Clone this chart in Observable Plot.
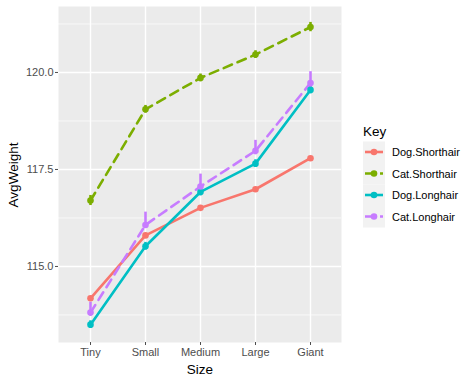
<!DOCTYPE html>
<html>
<head>
<meta charset="utf-8">
<script src="https://cdn.jsdelivr.net/npm/d3@7"></script>
<script src="https://cdn.jsdelivr.net/npm/@observablehq/plot@0.6"></script>
<style>
  body { margin: 0; background: #fff; }
  svg { font-family: "Liberation Sans", Arial, sans-serif; }
</style>
</head>
<body>
<div id="chart"></div>
<script>
const sizes = ["Tiny", "Small", "Medium", "Large", "Giant"];
const keys = ["Dog.Shorthair", "Cat.Shorthair", "Dog.Longhair", "Cat.Longhair"];
const colors = ["#F8766D", "#7CAE00", "#00BFC4", "#C77CFF"];
const dashed = [false, true, false, true];

const dogShortMean = [114.18, 115.80, 116.51, 116.99, 117.79];
const dogShortLo   = [114.14, 115.76, 116.47, 116.95, 117.75];
const dogShortHi   = [114.22, 115.84, 116.55, 117.03, 117.83];

const catShortMean = [116.70, 119.05, 119.86, 120.46, 121.17];
const catShortLo   = [116.57, 118.95, 119.76, 120.36, 121.05];
const catShortHi   = [116.83, 119.15, 119.96, 120.56, 121.29];

const dogLongMean  = [113.50, 115.52, 116.92, 117.65, 119.55];
const dogLongLo    = [113.40, 115.42, 116.82, 117.55, 119.45];
const dogLongHi    = [113.60, 115.62, 117.02, 117.75, 119.65];

const catLongMean  = [113.81, 116.07, 117.06, 117.98, 119.73];
const catLongLo    = [113.72, 115.98, 116.95, 117.88, 119.55];
const catLongHi    = [114.08, 116.40, 117.38, 118.25, 120.02];

const yTicks = [115, 117.5, 120];
const yMinor = [113.75, 116.25, 118.75, 121.25];

const series = [
  [dogShortMean, dogShortLo, dogShortHi],
  [catShortMean, catShortLo, catShortHi],
  [dogLongMean, dogLongLo, dogLongHi],
  [catLongMean, catLongLo, catLongHi]
];
const data = [];
series.forEach(([m, lo, hi], k) => {
  sizes.forEach((s, i) => data.push({Size: s, Key: keys[k], AvgWeight: m[i], lo: lo[i], hi: hi[i]}));
});

const plot = Plot.plot({
  width: 474,
  height: 384,
  marginLeft: 58,
  marginRight: 133,
  marginTop: 6,
  marginBottom: 42,
  style: {fontFamily: "Liberation Sans, Arial, sans-serif", background: "#fff"},
  x: {type: "point", domain: sizes, padding: 0.56, label: null},
  y: {domain: [113.04, 121.70], label: null},
  color: {domain: keys, range: colors},
  marks: [
    Plot.frame({fill: "#EBEBEB", stroke: null}),
    Plot.gridY(yMinor, {stroke: "#fff", strokeOpacity: 1, strokeWidth: 0.7}),
    Plot.gridY(yTicks, {stroke: "#fff", strokeOpacity: 1, strokeWidth: 1.4}),
    Plot.gridX(sizes, {stroke: "#fff", strokeOpacity: 1, strokeWidth: 1.4}),
    Plot.axisY(yTicks, {tickFormat: d => d.toFixed(1), tickSize: 3, tickPadding: 2, color: "#4D4D4D", fontSize: 11, label: null}),
    Plot.axisX(sizes, {tickSize: 3, tickPadding: 3, color: "#4D4D4D", fontSize: 11, label: null}),
    ...keys.map((k, i) => Plot.line(data.filter(d => d.Key === k), {
      x: "Size", y: "AvgWeight", stroke: "Key", strokeWidth: 2.6,
      strokeDasharray: dashed[i] ? "9,6" : null
    })),
    Plot.ruleX(data, {x: "Size", y1: "lo", y2: "hi", stroke: "Key", strokeWidth: 2.6}),
    Plot.dot(data, {x: "Size", y: "AvgWeight", fill: "Key", r: 3.3})
  ]
});

const svg = d3.select(plot);
// Axis titles
svg.append("text").attr("x", 200).attr("y", 374).attr("text-anchor", "middle")
  .attr("font-size", 13.5).attr("fill", "#000").text("Size");
svg.append("text").attr("transform", "translate(18,175) rotate(-90)").attr("text-anchor", "middle")
  .attr("font-size", 13.5).attr("fill", "#000").text("AvgWeight");

// Legend
const lg = svg.append("g").attr("text-anchor", "start");
lg.append("text").attr("x", 363).attr("y", 136).attr("text-anchor", "start")
  .attr("font-size", 13.5).attr("fill", "#000").text("Key");
keys.forEach((k, i) => {
  const cy = 152 + i * 21.5;
  lg.append("rect").attr("x", 363).attr("y", cy - 10.5).attr("width", 22).attr("height", 21.5).attr("fill", "#F2F2F2");
  lg.append("line").attr("x1", 365).attr("x2", 383).attr("y1", cy).attr("y2", cy)
    .attr("stroke", colors[i]).attr("stroke-width", 2.6)
    .attr("stroke-dasharray", dashed[i] ? "9,6" : null);
  lg.append("circle").attr("cx", 374).attr("cy", cy).attr("r", 3.3).attr("fill", colors[i]);
  lg.append("text").attr("x", 392).attr("y", cy + 4).attr("text-anchor", "start")
    .attr("font-size", 11).attr("fill", "#000").text(k);
});

document.getElementById("chart").appendChild(plot);
</script>
</body>
</html>
